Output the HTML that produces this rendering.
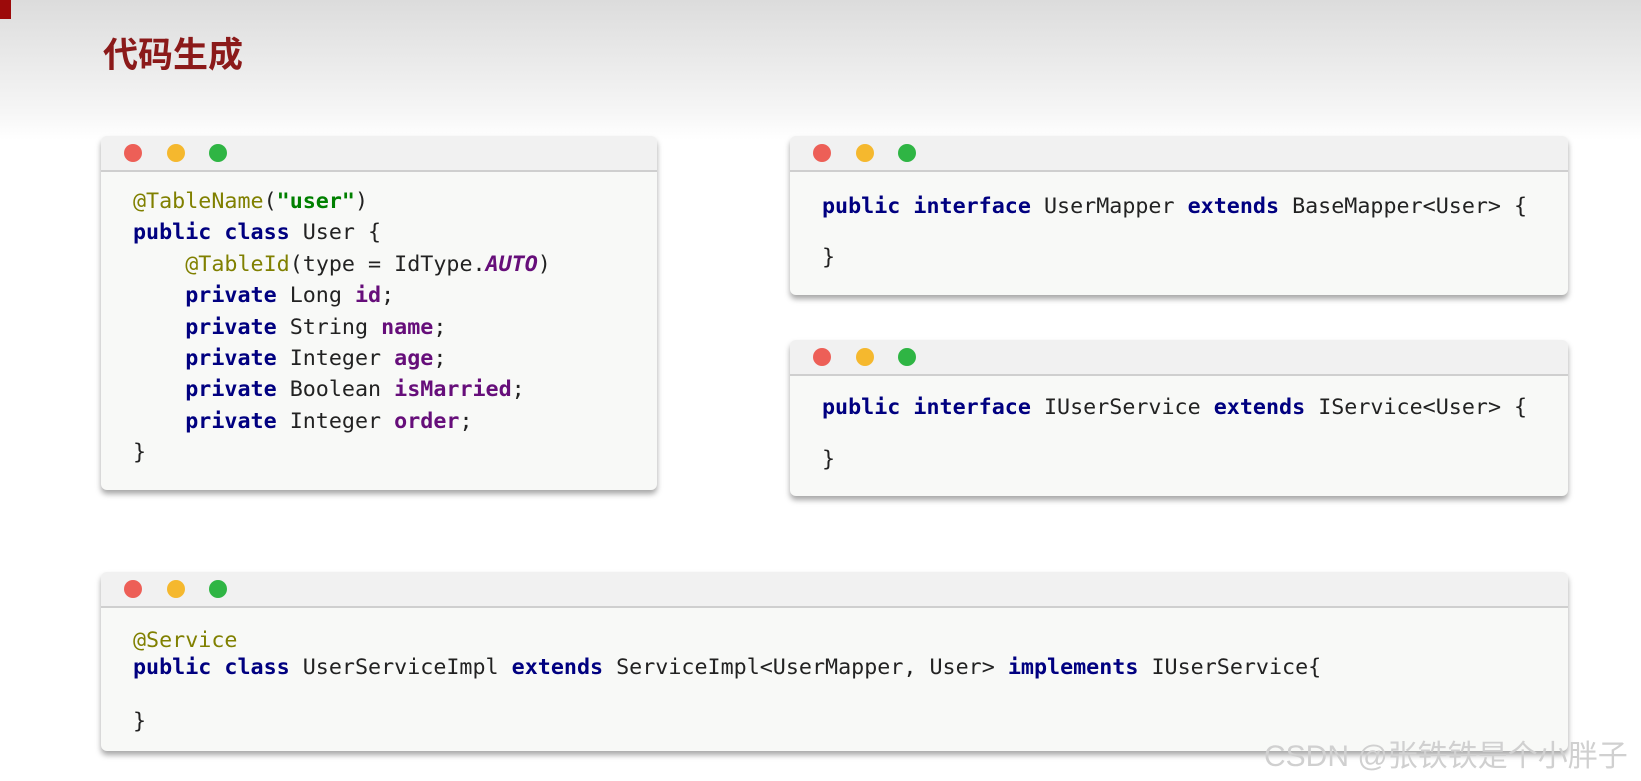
<!DOCTYPE html>
<html><head><meta charset="utf-8"><style>
html,body{margin:0;padding:0}
body{width:1641px;height:781px;position:relative;overflow:hidden;background:#fff;
font-family:"Liberation Sans","Noto Sans CJK SC",sans-serif}
.hdr{position:absolute;left:0;top:0;width:1641px;height:140px;background:linear-gradient(#dcdcdc,#f6f6f6 80%,#fff)}
.mark{position:absolute;left:0;top:0;width:11px;height:19px;background:#9c0a0a}
.title{position:absolute;left:103px;top:30px;font-size:35px;font-weight:bold;color:#8b1a1a;font-family:"Noto Sans CJK SC",sans-serif;line-height:46px}
.card{position:absolute;background:#f8f9f7;border-radius:6px;box-shadow:0 4px 6px rgba(0,0,0,.35);overflow:hidden}
.bar{height:34px;background:#f1f1f1;border-bottom:2px solid #cfcfcf;position:relative}
.dot{position:absolute;top:8px;width:18px;height:18px;border-radius:50%}
.r{background:#ed5f57;left:23px}.y{background:#f5b82e;left:66px}.g{background:#2fb544;left:108px}
pre{position:absolute;margin:0;font-family:"DejaVu Sans Mono","Liberation Mono",monospace;font-size:21.7px;color:#222;letter-spacing:0}
.k{color:#000080;font-weight:bold}.a{color:#808000}.s{color:#008000;font-weight:bold}.f{color:#660e7a;font-weight:bold}.i{color:#660e7a;font-weight:bold;font-style:italic}
.wm{position:absolute;left:1264px;top:731px;font-size:30px;color:#d0d0d0;white-space:nowrap}
</style></head><body>
<div class="hdr"></div><div class="mark"></div>
<div class="title">代码生成</div>

<div class="card" style="left:101px;top:136px;width:556px;height:354px">
<div class="bar"><div class="dot r"></div><div class="dot y"></div><div class="dot g"></div></div>
<pre style="left:32px;top:50px;line-height:31.4px"><span class="a">@TableName</span>(<span class="s">"user"</span>)
<span class="k">public class</span> User {
    <span class="a">@TableId</span>(type = IdType.<span class="i">AUTO</span>)
    <span class="k">private</span> Long <span class="f">id</span>;
    <span class="k">private</span> String <span class="f">name</span>;
    <span class="k">private</span> Integer <span class="f">age</span>;
    <span class="k">private</span> Boolean <span class="f">isMarried</span>;
    <span class="k">private</span> Integer <span class="f">order</span>;
}</pre></div>

<div class="card" style="left:790px;top:136px;width:778px;height:159px">
<div class="bar"><div class="dot r"></div><div class="dot y"></div><div class="dot g"></div></div>
<pre style="left:32px;top:45px;line-height:51px"><span class="k">public interface</span> UserMapper <span class="k">extends</span> BaseMapper&lt;User&gt; {
}</pre></div>

<div class="card" style="left:790px;top:340px;width:778px;height:156px">
<div class="bar"><div class="dot r"></div><div class="dot y"></div><div class="dot g"></div></div>
<pre style="left:32px;top:42px;line-height:52px"><span class="k">public interface</span> IUserService <span class="k">extends</span> IService&lt;User&gt; {
}</pre></div>

<div class="card" style="left:101px;top:572px;width:1467px;height:179px">
<div class="bar"><div class="dot r"></div><div class="dot y"></div><div class="dot g"></div></div>
<pre style="left:32px;top:55px;line-height:27px"><span class="a">@Service</span>
<span class="k">public class</span> UserServiceImpl <span class="k">extends</span> ServiceImpl&lt;UserMapper, User&gt; <span class="k">implements</span> IUserService{

}</pre></div>

<div class="wm">CSDN @张铁铁是个小胖子</div>
</body></html>
